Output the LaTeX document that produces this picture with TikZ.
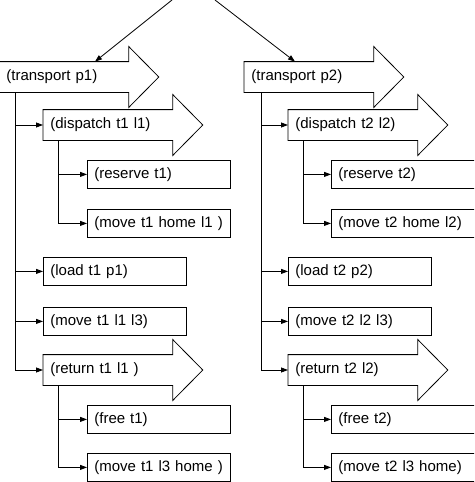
\documentclass[tikz,border=0pt]{standalone}
\usepackage{fontspec}
\setmainfont{Liberation Sans}
\usetikzlibrary{arrows.meta,calc}
\newcommand\drawarrowbox[1]{\draw (#1.north west) -- (#1.north east) -- ++(0,-15) -- ($(#1.east)+(30,0)$) -- ($(#1.south east)+(0,15)$) -- (#1.south east) -- (#1.south west) -- cycle;}
\begin{document}
\begin{tikzpicture}[x=1pt,y=-1pt, line width=0.8pt, font=\fontsize{15}{18}\selectfont,
  shaft/.style={anchor=west, minimum height=30pt, text width=115pt, inner xsep=7pt, inner ysep=0pt, align=left},
  leaf/.style={draw, anchor=north west, minimum height=28pt, text width=129pt, inner xsep=7pt, inner ysep=0pt, align=left},
  wideleaf/.style={leaf, text width=135pt},
  conn/.style={-{Triangle[length=7pt,width=5pt]}}]
\useasboundingbox (0,0) rectangle (474,482);
\clip (0,0) rectangle (474,482);
% left tree
\node[shaft] (tp1) at (-1,77) {(transport p1)};
\node[shaft] (dp1) at (43,125) {(dispatch t1 l1)};
\node[leaf] (rs1) at (87,160) {(reserve t1)};
\node[leaf] (mh1) at (87,209) {(move t1 home l1 )};
\node[leaf] (ld1) at (43,257) {(load t1 p1)};
\node[leaf] (mv1) at (43,307) {(move t1 l1 l3)};
\node[shaft] (rt1) at (43,370) {(return t1 l1 )};
\node[leaf] (fr1) at (87,405) {(free t1)};
\node[leaf] (mr1) at (87,453) {(move t1 l3 home )};
\drawarrowbox{tp1}
\drawarrowbox{dp1}
\drawarrowbox{rt1}
% right tree
\node[shaft] (tp2) at (244,77) {(transport p2)};
\node[shaft] (dp2) at (288,125) {(dispatch t2 l2)};
\node[wideleaf] (rs2) at (331,160) {(reserve t2)};
\node[wideleaf] (mh2) at (331,209) {(move t2 home l2)};
\node[leaf] (ld2) at (288,257) {(load t2 p2)};
\node[leaf] (mv2) at (288,307) {(move t2 l2 l3)};
\node[shaft] (rt2) at (288,370) {(return t2 l2)};
\node[wideleaf] (fr2) at (331,405) {(free t2)};
\node[wideleaf] (mr2) at (331,453) {(move t2 l3 home)};
\drawarrowbox{tp2}
\drawarrowbox{dp2}
\drawarrowbox{rt2}
% trunks
\coordinate (a1) at ($(tp1.south west)+(16,0)$);
\coordinate (b1) at ($(dp1.south west)+(15,0)$);
\coordinate (c1) at ($(rt1.south west)+(15,0)$);
\coordinate (a2) at ($(tp2.south west)+(17,0)$);
\coordinate (b2) at ($(dp2.south west)+(15,0)$);
\coordinate (c2) at ($(rt2.south west)+(15,0)$);
\foreach \n in {dp1,ld1,mv1,rt1} \draw[conn] (a1) |- (\n.west);
\foreach \n in {rs1,mh1} \draw[conn] (b1) |- (\n.west);
\foreach \n in {fr1,mr1} \draw[conn] (c1) |- (\n.west);
\foreach \n in {dp2,ld2,mv2,rt2} \draw[conn] (a2) |- (\n.west);
\foreach \n in {rs2,mh2} \draw[conn] (b2) |- (\n.west);
\foreach \n in {fr2,mr2} \draw[conn] (c2) |- (\n.west);
% top links
\coordinate (p1) at (172,0);
\coordinate (p2) at (215,0);
\draw[conn] (p1) -- ($(tp1.north west)+(96,0)$);
\draw[conn] (p2) -- ($(tp2.north west)+(51,0)$);
\end{tikzpicture}
\end{document}
